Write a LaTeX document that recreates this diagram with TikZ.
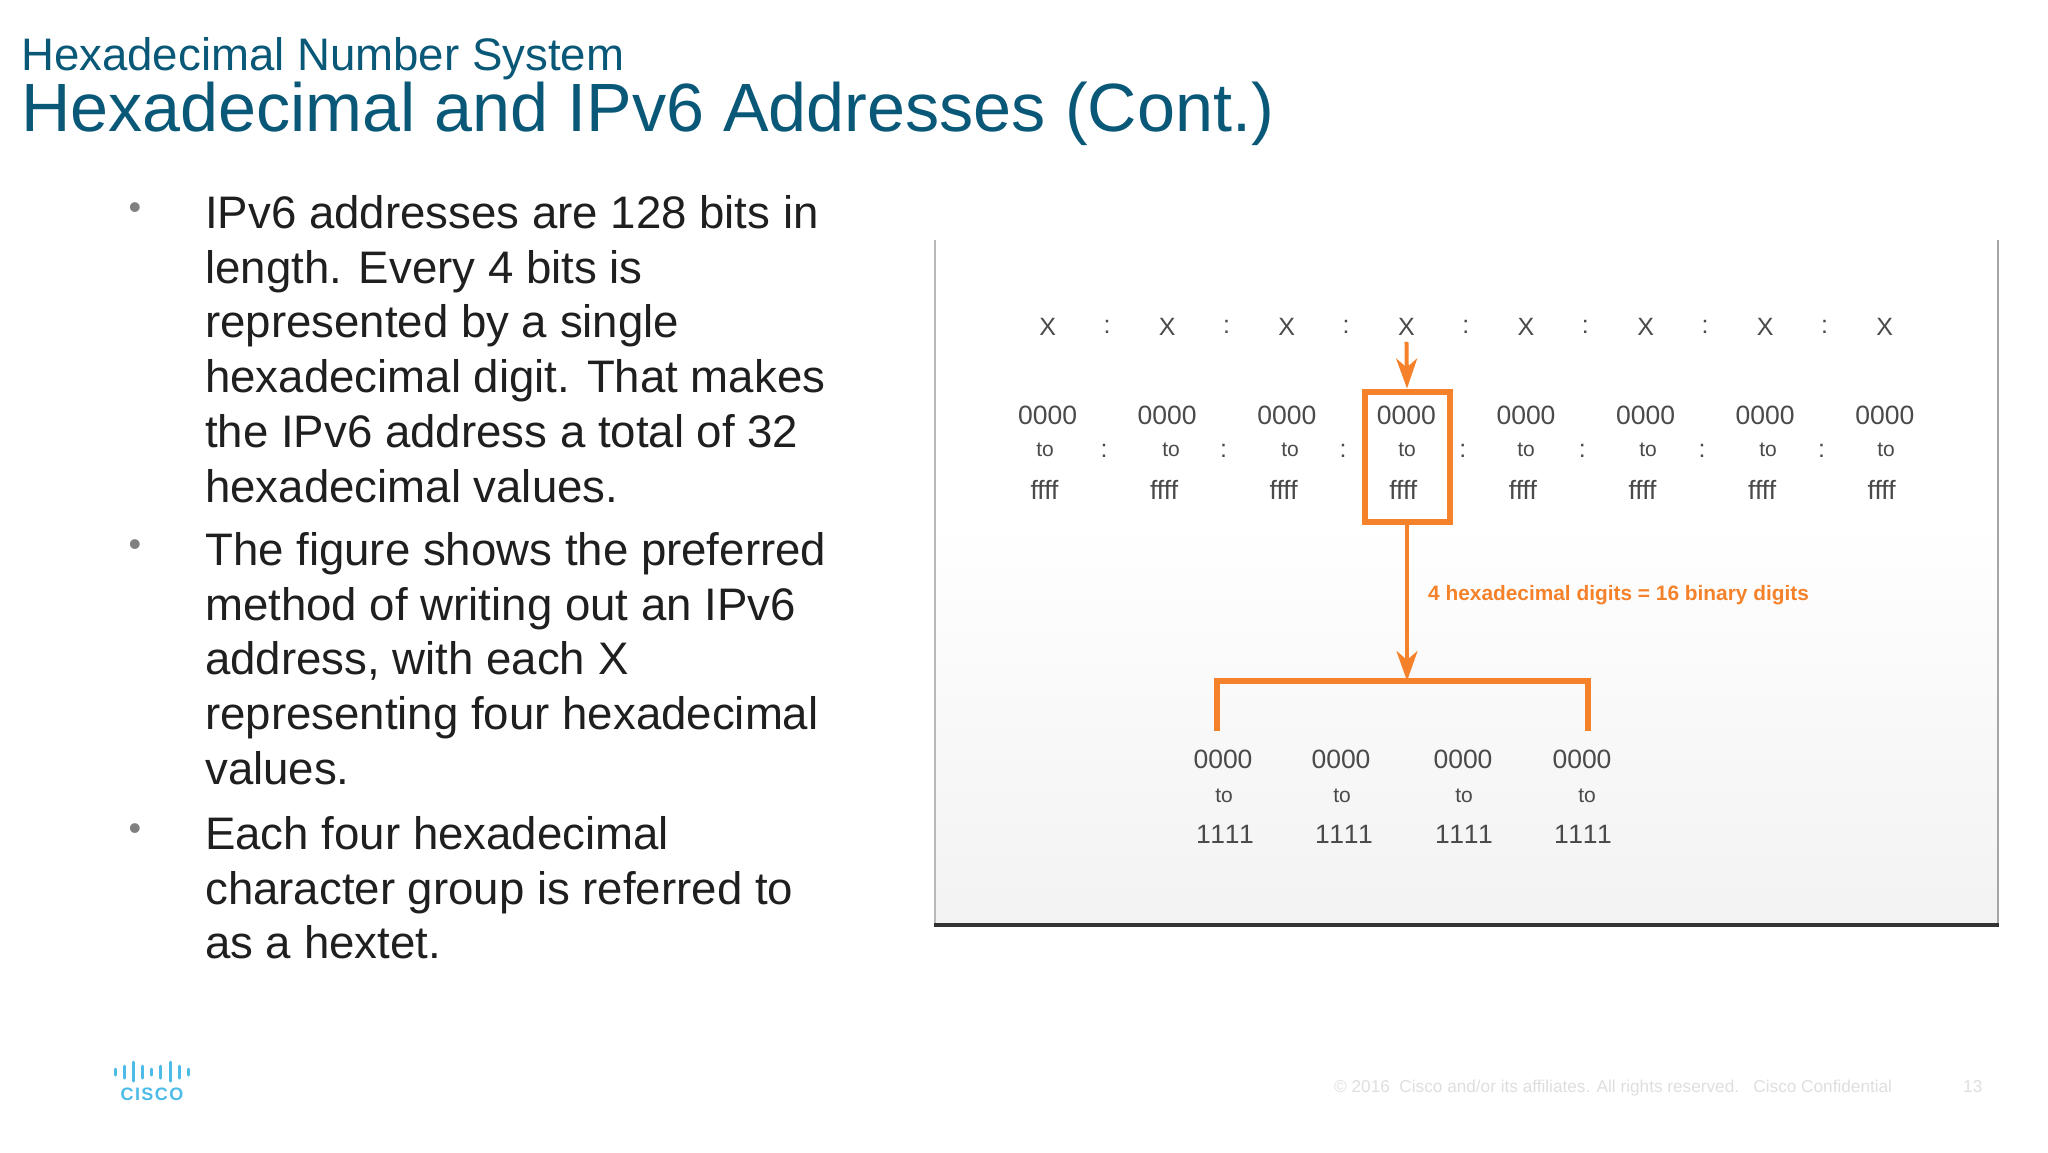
\documentclass[tikz,border=0pt]{standalone}
\usepackage{fontspec}
\setmainfont{Liberation Sans}
\usetikzlibrary{arrows.meta}
\definecolor{ciscoteal}{HTML}{0A5878}
\definecolor{ciscoblue}{HTML}{4DBBE8}
\definecolor{hexorange}{HTML}{F5822A}
\definecolor{digitgray}{HTML}{4A4A4A}
\tikzset{
  bodytext/.style={anchor=north west, inner sep=0pt, align=left, text=black!88, font=\fontsize{45.6}{54.8}\selectfont},
  bulletmark/.style={inner sep=0pt, text=black!50, font=\fontsize{36}{36}\selectfont},
  letter/.style={inner sep=0pt, text=digitgray, font=\fontsize{25}{25}\selectfont},
  digits/.style={inner sep=0pt, text=digitgray, font=\fontsize{26.5}{26.5}\selectfont},
  ones/.style={inner sep=0pt, text=digitgray, font=\addfontfeature{LetterSpace=6}\fontsize{26.5}{26.5}\selectfont},
  small/.style={inner sep=0pt, text=digitgray, font=\fontsize{21}{21}\selectfont},
  colon/.style={inner sep=0pt, text=digitgray, font=\fontsize{25}{25}\selectfont},
  footer/.style={anchor=base west, inner sep=0pt, text=black!13, font=\fontsize{17.2}{20}\selectfont},
  orangeline/.style={draw=hexorange, line width=6pt},
  orangearrow/.style={draw=hexorange, line width=4pt, -{Stealth[length=30pt,width=21pt,inset=9pt]}},
  logobar/.style={draw=ciscoblue, line width=3pt, line cap=round}
}
\begin{document}
\begin{tikzpicture}[x=1pt, y=-1pt, node distance=119.6pt]
\useasboundingbox (0,0) rectangle (2048,1152);
% titles
\node (subtitle) [anchor=base west, inner sep=0pt, text=ciscoteal, font=\fontsize{45.6}{50}\selectfont] at (21,70) {Hexadecimal Number System};
\node (title) [anchor=base west, inner sep=0pt, text=ciscoteal, font=\fontsize{68.3}{72}\selectfont] at (21,131) {Hexadecimal and IPv6 Addresses (Cont.)};
% bullet text
\node (bull1) [bulletmark] at (135,211) {•};
\node (bull2) [bulletmark] at (135,548) {•};
\node (bull3) [bulletmark] at (135,832) {•};
\node (para1) [bodytext] at (205,195) {IPv6 addresses are 128 bits in\\length. Every 4 bits is\\represented by a single\\hexadecimal digit. That makes\\the IPv6 address a total of 32\\hexadecimal values.};
\node (para2) [bodytext] at (205,532) {The figure shows the preferred\\method of writing out an IPv6\\address, with each X\\representing four hexadecimal\\values.};
\node (para3) [bodytext] at (205,816) {Each four hexadecimal\\character group is referred to\\as a hextet.};
% panel
\fill[white] (935,240) rectangle (1998,520);
\shade[top color=white, bottom color=black!5] (935,520) rectangle (1998,925);
\draw[black!28, line width=2.5pt] (935,240) -- (935,925);
\draw[black!35, line width=2.5pt] (1998,240) -- (1998,925);
\draw[black!80, line width=3.5pt] (934,925) -- (1999,925);
% X row
\node (x1) [letter] at (1047.6,327) {X};
\node (x2) [letter, right of=x1] {X};
\node (x3) [letter, right of=x2] {X};
\node (x4) [letter, right of=x3] {X};
\node (x5) [letter, right of=x4] {X};
\node (x6) [letter, right of=x5] {X};
\node (x7) [letter, right of=x6] {X};
\node (x8) [letter, right of=x7] {X};
\node (c1) [colon] at (1107,327) {:};
\node (c2) [colon, right of=c1] {:};
\node (c3) [colon, right of=c2] {:};
\node (c4) [colon, right of=c3] {:};
\node (c5) [colon, right of=c4] {:};
\node (c6) [colon, right of=c5] {:};
\node (c7) [colon, right of=c6] {:};
% upper ranges
\node (low1) [digits] at (1047.6,415) {0000};
\node (low2) [digits, right of=low1] {0000};
\node (low3) [digits, right of=low2] {0000};
\node (low4) [digits, right of=low3] {0000};
\node (low5) [digits, right of=low4] {0000};
\node (low6) [digits, right of=low5] {0000};
\node (low7) [digits, right of=low6] {0000};
\node (low8) [digits, right of=low7] {0000};
\node (to1) [small] at (1045,450) {to};
\node (to2) [small] at (1171,450) {to};
\node (to3) [small] at (1290,450) {to};
\node (to4) [small] at (1407,450) {to};
\node (to5) [small] at (1526,450) {to};
\node (to6) [small] at (1648,450) {to};
\node (to7) [small] at (1768,450) {to};
\node (to8) [small] at (1886,450) {to};
\node (high1) [digits] at (1044.5,490) {ffff};
\node (high2) [digits, right of=high1] {ffff};
\node (high3) [digits, right of=high2] {ffff};
\node (high4) [digits, right of=high3] {ffff};
\node (high5) [digits, right of=high4] {ffff};
\node (high6) [digits, right of=high5] {ffff};
\node (high7) [digits, right of=high6] {ffff};
\node (high8) [digits, right of=high7] {ffff};
\node (d1) [colon] at (1104,451) {:};
\node (d2) [colon, right of=d1] {:};
\node (d3) [colon, right of=d2] {:};
\node (d4) [colon, right of=d3] {:};
\node (d5) [colon, right of=d4] {:};
\node (d6) [colon, right of=d5] {:};
\node (d7) [colon, right of=d6] {:};
% orange parts
\node (hextet) [draw=hexorange, line width=6pt, minimum width=85pt, minimum height=130pt] at (1407,456.5) {};
\coordinate (brleft) at (1217,681);
\coordinate (brright) at (1588,681);
\coordinate (brmid) at (1407,681);
\coordinate (legleft) at (1217,731);
\coordinate (legright) at (1588,731);
\draw[orangearrow, shorten <=6pt] (x4.south) -- (hextet.north);
\draw[orangearrow] (hextet.south) -- (brmid);
\draw[orangeline] (legleft) -- (brleft) -- (brright) -- (legright);
\node (note) [anchor=west, inner sep=0pt, text=hexorange, font=\bfseries\fontsize{20.85}{24}\selectfont] at (1428,595) {4 hexadecimal digits = 16 binary digits};
% lower ranges
\node (bin1) [digits] at (1223,759) {0000};
\node (bin2) [digits] at (1341,759) {0000};
\node (bin3) [digits] at (1463,759) {0000};
\node (bin4) [digits] at (1582,759) {0000};
\node (tob1) [small] at (1224,796) {to};
\node (tob2) [small] at (1342,796) {to};
\node (tob3) [small] at (1464,796) {to};
\node (tob4) [small] at (1587,796) {to};
\node (one1) [ones] at (1225,834) {1111};
\node (one2) [ones] at (1344,834) {1111};
\node (one3) [ones] at (1464,834) {1111};
\node (one4) [ones] at (1583,834) {1111};
% logo
\draw[logobar] (115,1069) -- (115,1075);
\draw[logobar] (124,1066) -- (124,1078);
\draw[logobar] (133.3,1062) -- (133.3,1081);
\draw[logobar] (142.3,1066) -- (142.3,1078);
\draw[logobar] (151.7,1069) -- (151.7,1075);
\draw[logobar] (160.7,1066) -- (160.7,1078);
\draw[logobar] (170,1062) -- (170,1081);
\draw[logobar] (179,1066) -- (179,1078);
\draw[logobar] (188.3,1069) -- (188.3,1075);
\node (cisco) [inner sep=0pt, text=ciscoblue, font=\bfseries\addfontfeature{LetterSpace=8}\fontsize{18}{18}\selectfont] at (152,1094) {CISCO};
% footer
\node (copyr) [footer] at (1334,1092) {© 2016\ \ Cisco and/or its affiliates. All rights reserved.\ \ \ Cisco Confidential};
\node (page) [footer] at (1963,1092) {13};
\end{tikzpicture}
\end{document}
